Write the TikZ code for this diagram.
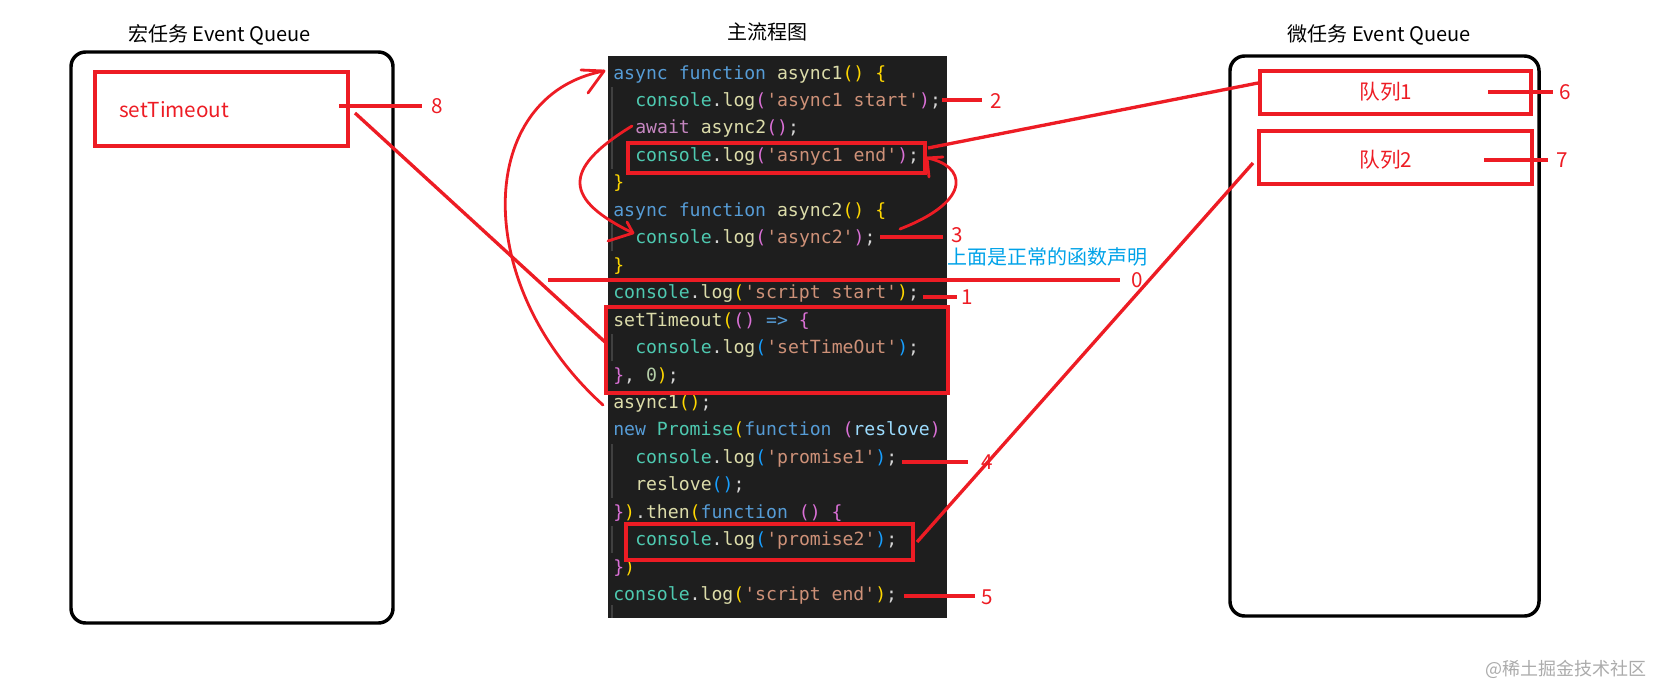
\documentclass[tikz,border=0pt]{standalone}
\usepackage{fontspec}
\setmonofont{DejaVu Sans Mono}
\newfontfamily\cjk{Noto Sans CJK SC}
\usetikzlibrary{fit}
\definecolor{myred}{RGB}{237,28,36}
\definecolor{myblue}{RGB}{0,162,232}
\definecolor{codebg}{HTML}{1E1E1E}
\definecolor{ckw}{HTML}{569CD6}
\definecolor{cfn}{HTML}{DCDCAA}
\definecolor{ccl}{HTML}{4EC9B0}
\definecolor{cst}{HTML}{CE9178}
\definecolor{cba}{HTML}{FFD700}
\definecolor{cbb}{HTML}{DA70D6}
\definecolor{cbc}{HTML}{179FFF}
\definecolor{cct}{HTML}{C586C0}
\definecolor{cpa}{HTML}{9CDCFE}
\definecolor{cnu}{HTML}{B5CEA8}
\definecolor{cpl}{HTML}{D4D4D4}
\definecolor{cguide}{HTML}{404040}
\newcommand\xkw[1]{\textcolor{ckw}{#1}}
\newcommand\xfn[1]{\textcolor{cfn}{#1}}
\newcommand\xcl[1]{\textcolor{ccl}{#1}}
\newcommand\xst[1]{\textcolor{cst}{#1}}
\newcommand\xba[1]{\textcolor{cba}{#1}}
\newcommand\xbb[1]{\textcolor{cbb}{#1}}
\newcommand\xbc[1]{\textcolor{cbc}{#1}}
\newcommand\xct[1]{\textcolor{cct}{#1}}
\newcommand\xpa[1]{\textcolor{cpa}{#1}}
\newcommand\xnu[1]{\textcolor{cnu}{#1}}
\begin{document}
\begin{tikzpicture}[x=0.75pt,y=-0.75pt,
  code/.style={font=\ttfamily\fontsize{13.6}{16}\selectfont, anchor=base west, inner sep=0pt, text=cpl},
  redbox/.style={draw=myred, line width=2.6pt, inner sep=0pt},
  redline/.style={draw=myred, line width=2.5pt},
  curveline/.style={draw=myred, line width=2.1pt, line cap=round},
  numlbl/.style={font=\cjk\fontsize{15.5}{18}\selectfont, text=myred, anchor=west, inner sep=0pt},
  titlelbl/.style={font=\cjk\fontsize{15}{18}\selectfont, inner sep=0pt},
  queuebox/.style={draw=black, line width=2.6pt, rounded corners=11pt, inner sep=0pt},
  guide/.style={draw=cguide, line width=0.8pt}]
\useasboundingbox (0,0) rectangle (1667,689);

% titles
\node[titlelbl] (tmacro) at (219.5,35) {宏任务 Event Queue};
\node[titlelbl] (tmain) at (767,32) {主流程图};
\node[titlelbl] (tmicro) at (1379,35) {微任务 Event Queue};

% queue boxes
\node[queuebox, fit={(71,52) (393,623)}] (macro) {};
\node[queuebox, fit={(1230,56) (1539,616)}] (micro) {};

% code background
\fill[codebg] (608,56) rectangle (947,618);
\draw[guide] (612,87) -- (612,169);
\draw[guide] (612,224) -- (612,251);
\draw[guide] (612,334) -- (612,361);
\draw[guide] (612,444) -- (612,498);
\draw[guide] (612,526) -- (612,553);
\draw[guide] (612,605) -- (612,618);

% code lines
\node[code] (c0) at (613,79) {\xkw{async} \xkw{function} \xfn{async1}\xba{()} \xba{\{}};
\node[code] (c1) at (635,106.5) {\xcl{console}.\xfn{log}\xbb{(}\xst{'async1 start'}\xbb{)};};
\node[code] (c2) at (635,133.9) {\xct{await} \xfn{async2}\xbb{()};};
\node[code] (c3) at (635,161.4) {\xcl{console}.\xfn{log}\xbb{(}\xst{'asnyc1 end'}\xbb{)};};
\node[code] (c4) at (613,188.8) {\xba{\}}};
\node[code] (c5) at (613,216.3) {\xkw{async} \xkw{function} \xfn{async2}\xba{()} \xba{\{}};
\node[code] (c6) at (635,243.7) {\xcl{console}.\xfn{log}\xbb{(}\xst{'async2'}\xbb{)};};
\node[code] (c7) at (613,271.2) {\xba{\}}};
\node[code] (c8) at (613,298.6) {\xcl{console}.\xfn{log}\xba{(}\xst{'script start'}\xba{)};};
\node[code] (c9) at (613,326.1) {\xfn{setTimeout}\xba{(}\xbb{()} \xkw{=>} \xbb{\{}};
\node[code] (c10) at (635,353.5) {\xcl{console}.\xfn{log}\xbc{(}\xst{'setTimeOut'}\xbc{)};};
\node[code] (c11) at (613,381) {\xbb{\}}, \xnu{0}\xba{)};};
\node[code] (c12) at (613,408.4) {\xfn{async1}\xba{()};};
\node[code] (c13) at (613,435.9) {\xkw{new} \xcl{Promise}\xba{(}\xkw{function} \xbb{(}\xpa{reslove}\xbb{)}};
\node[code] (c14) at (635,463.3) {\xcl{console}.\xfn{log}\xbc{(}\xst{'promise1'}\xbc{)};};
\node[code] (c15) at (635,490.8) {\xfn{reslove}\xbc{()};};
\node[code] (c16) at (613,518.2) {\xbb{\}}\xba{)}.\xfn{then}\xba{(}\xkw{function} \xbb{()} \xbb{\{}};
\node[code] (c17) at (635,545.7) {\xcl{console}.\xfn{log}\xbc{(}\xst{'promise2'}\xbc{)};};
\node[code] (c18) at (613,573.1) {\xbb{\}}\xba{)}};
\node[code] (c19) at (613,600.6) {\xcl{console}.\xfn{log}\xba{(}\xst{'script end'}\xba{)};};

% red boxes
\node[redbox, fit={(95,72) (348,146)}] (stbox) {};
\node[numlbl, anchor=west] (sttext) at (119,110) {setTimeout};
\node[redbox, fit={(628,143) (925,173)}] (endbox) {};
\node[redbox, fit={(606,307) (948,393)}] (codestbox) {};
\node[redbox, fit={(626,524) (913,560)}] (p2box) {};
\node[redbox, fit={(1260,71) (1531,114)}] (q1box) {};
\node[redbox, fit={(1259,131) (1532,184)}] (q2box) {};
\node[numlbl, anchor=center] (q1text) at (1386,92) {队列1};
\node[numlbl, anchor=center] (q2text) at (1386,160) {队列2};

% numbered leader lines
\coordinate (a8) at (339,106);   \coordinate (b8) at (422,106);
\coordinate (a0) at (548,280);   \coordinate (b0) at (1120,280);
\coordinate (a1) at (923,297);   \coordinate (b1) at (957,297);
\coordinate (a2) at (942,100);   \coordinate (b2) at (982,100);
\coordinate (a3) at (880,237);   \coordinate (b3) at (943,237);
\coordinate (a4) at (902,462);   \coordinate (b4) at (968,462);
\coordinate (a5) at (904,596);   \coordinate (b5) at (975,596);
\coordinate (a6) at (1488,92);   \coordinate (b6) at (1553,92);
\coordinate (a7) at (1484,160);  \coordinate (b7) at (1548,160);
\foreach \k in {8,0,1,2,3,4,5,6,7} { \draw[redline] (a\k) -- (b\k); }
\node[numlbl] (n8) at (431,106) {8};
\node[numlbl] (n0) at (1131,280) {0};
\node[numlbl] (n1) at (961,297) {1};
\node[numlbl] (n2) at (990,101) {2};
\node[numlbl] (n3) at (951,235) {3};
\node[numlbl] (n4) at (981,462) {4};
\node[numlbl] (n5) at (981,597) {5};
\node[numlbl] (n6) at (1559,92) {6};
\node[numlbl] (n7) at (1556,160) {7};

% blue note
\node[numlbl, text=myblue, font=\cjk\fontsize{15}{18}\selectfont] (note) at (947,257) {上面是正常的函数声明};

% diagonal links
\coordinate (d1a) at (355,113);  \coordinate (d1b) at (605,342);
\draw[redline] (d1a) -- (d1b);
\coordinate (d2a) at (928,148);  \coordinate (d2b) at (1258,83);
\draw[redline] (d2a) -- (d2b);
\coordinate (d3a) at (917,542);  \coordinate (d3b) at (1253,163);
\draw[redline] (d3a) -- (d3b);

% big arc: async1() -> async function async1
\coordinate (arcS) at (603,405); \coordinate (arcT) at (604,71);
\draw[curveline] (arcS) .. controls (470,285) and (475,95) .. (arcT);
\draw[curveline] (arcT) -- (581,70);
\draw[curveline] (arcT) -- (588,93);

% await -> async2 body
\coordinate (awS) at (632,126); \coordinate (awT) at (633,233);
\draw[curveline] (awS) .. controls (560,170) and (565,200) .. (awT);
\draw[curveline] (awT) -- (608,241);
\draw[curveline] (awT) -- (627,222);

% async2 body -> asnyc1 end
\coordinate (bkS) at (900,229); \coordinate (bkT) at (927,158);
\draw[curveline] (bkS) .. controls (975,200) and (965,165) .. (bkT);
\draw[curveline] (bkT) -- (943,157);
\draw[curveline] (bkT) -- (929,177);

% watermark
\node[titlelbl, text=black!33, font=\cjk\fontsize{13.5}{16}\selectfont] (wm) at (1566,669) {@稀土掘金技术社区};
\end{tikzpicture}
\end{document}
